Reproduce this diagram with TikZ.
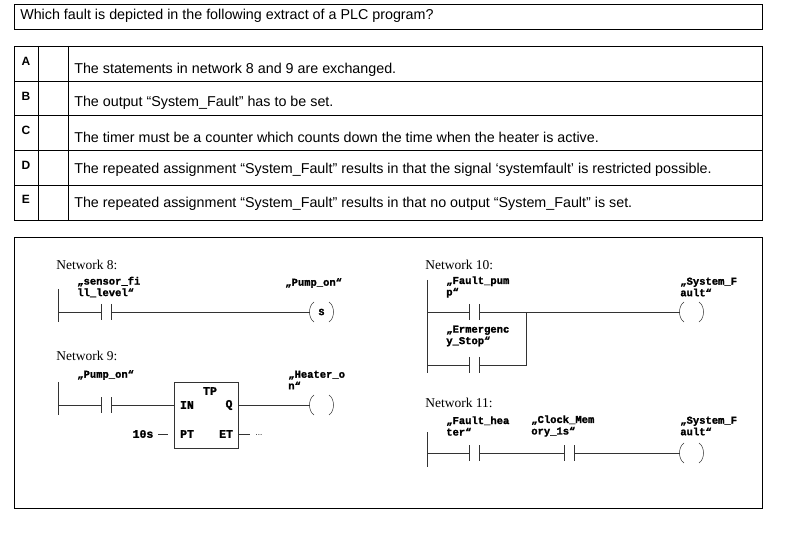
\documentclass[tikz,border=0pt]{standalone}
\usepackage{fontspec}
\setmainfont{Liberation Sans}
\newfontfamily\serif{Liberation Serif}
\newfontfamily\mono{Liberation Mono}[FakeBold=1.5]
\begin{document}
\begin{tikzpicture}[x=1pt,y=-1pt,line width=0.6pt,
  q/.style={font=\fontsize{14.3}{16}\selectfont,anchor=west,inner sep=0},
  let/.style={font=\bfseries\fontsize{12}{14}\selectfont,inner sep=0},
  net/.style={font=\serif\fontsize{13.5}{15}\selectfont,anchor=west,inner sep=0},
  lab/.style={font=\mono\bfseries\fontsize{10.5}{11.5}\selectfont,anchor=west,inner sep=0,align=left},
  rung/.style={line width=0.5pt,black!80},
  fb/.style={font=\mono\bfseries\fontsize{11.5}{12}\selectfont,inner sep=0}]
\useasboundingbox (0,0) rectangle (803,534);
\newcommand\ct[2]{\draw[rung] (#1,#2-8)--(#1,#2+8) (#1+10,#2-8)--(#1+10,#2+8);}
\newcommand\coil[2]{\draw[rung] (#1+4,#2-10) .. controls (#1-2,#2-6) and (#1-2,#2+6) .. (#1+4,#2+10);
  \draw[rung] (#1+19,#2-10) .. controls (#1+25,#2-6) and (#1+25,#2+6) .. (#1+19,#2+10);}
% title
\draw (14,4) rectangle (762,29);
\node[q] (title) at (20,16) {Which fault is depicted in the following extract of a PLC program?};
% table
\draw (14,46) rectangle (762,220);
\foreach \y in {81,115,150,185} \draw (14,\y)--(762,\y);
\draw (38,46)--(38,220) (68,46)--(68,220);
\node[let] (la) at (26,61) {A};
\node[let] (lb) at (26,96) {B};
\node[let] (lc) at (26,130) {C};
\node[let] (ld) at (26,165) {D};
\node[let] (le) at (26,199) {E};
\node[q] (ta) at (74,70) {The statements in network 8 and 9 are exchanged.};
\node[q] (tb) at (74,103) {The output “System\_Fault” has to be set.};
\node[q] (tc) at (74,137) {The timer must be a counter which counts down the time when the heater is active.};
\node[q] (td) at (74,170) {The repeated assignment “System\_Fault” results in that the signal ‘systemfault’ is restricted possible.};
\node[q] (te) at (74,204) {The repeated assignment “System\_Fault” results in that no output “System\_Fault” is set.};
% diagram box
\draw (14,237) rectangle (762,508);
% Network 8
\node[net] (n8) at (56,265) {Network 8:};
\node[lab] (s8) at (77,287) {„sensor\_fi\\ll\_level“};
\node[lab] (p8) at (285,283) {„Pump\_on“};
\draw[rung] (58,289)--(58,322);
\draw[rung] (58,312)--(101,312) (111,312)--(310,312);
\ct{101}{312}
\coil{310}{312}
\node[fb,font=\mono\bfseries\fontsize{9.5}{10}\selectfont] (s) at (321.5,312) {S};
% Network 9
\node[net] (n9) at (56,356) {Network 9:};
\node[lab] (p9) at (77,375) {„Pump\_on“};
\node[lab] (h9) at (288,380) {„Heater\_o\\n“};
\draw[rung] (58,382)--(58,415);
\ct{101}{405}
\draw[rung] (58,405)--(101,405) (111,405)--(174,405);
\draw[rung] (174,382) rectangle (238,448);
\node[fb] (tp) at (210,391) {TP};
\node[fb] (in) at (187,405) {IN};
\node[fb] (qq) at (229,405) {Q};
\node[fb] (pt) at (187,434) {PT};
\node[fb] (et) at (226,434) {ET};
\node[fb] (ten) at (143,434) {10s};
\draw[rung] (158,434)--(168,434) (238,434)--(250,434);
\node[inner sep=0,font=\fontsize{8}{9}\selectfont] (dots) at (259,435) {...};
\draw[rung] (238,405)--(310,405);
\coil{310}{405}
% Network 10
\node[net] (n10) at (425,265) {Network 10:};
\node[lab] (f10) at (446,287) {„Fault\_pum\\p“};
\node[lab] (e10) at (446,336) {„Ermergenc\\y\_Stop“};
\node[lab] (sf10) at (680,287) {„System\_F\\ault“};
\draw[rung] (427,280)--(427,373);
\ct{469}{312}
\ct{469}{365}
\draw[rung] (427,312)--(469,312) (479,312)--(680,312);
\draw[rung] (427,365)--(469,365) (479,365)--(526,365)--(526,312);
\coil{680}{312}
% Network 11
\node[net] (n11) at (425,403) {Network 11:};
\node[lab] (f11) at (446,426) {„Fault\_hea\\ter“};
\node[lab] (c11) at (531,426) {„Clock\_Mem\\ory\_1s“};
\node[lab] (sf11) at (680,426) {„System\_F\\ault“};
\draw[rung] (427,432)--(427,467);
\ct{469}{453}
\ct{564}{453}
\draw[rung] (427,453)--(469,453) (479,453)--(564,453) (574,453)--(680,453);
\coil{680}{453}
\end{tikzpicture}
\end{document}
